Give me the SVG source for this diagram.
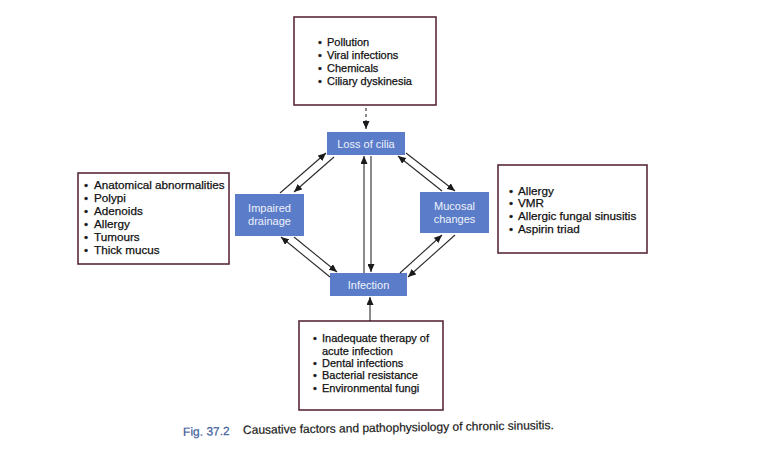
<svg xmlns="http://www.w3.org/2000/svg" width="768" height="468" viewBox="0 0 768 468">
<defs>
<style>
.box{fill:#ffffff;stroke:#5a2a3a;stroke-width:1.6}
.node{fill:#5b7cc8}
.nt{font-family:"Liberation Sans",Arial,sans-serif;font-size:11px;fill:#eef2fb;text-anchor:middle}
.bt{font-family:"Liberation Sans",Arial,sans-serif;font-size:11.7px;fill:#111111;stroke:#111111;stroke-width:0.25}
.sm{font-size:11px}
.ln{stroke:#2a2a2a;stroke-width:1.1;fill:none;marker-end:url(#ah)}
.cap{font-family:"Liberation Sans",Arial,sans-serif;font-size:12px;fill:#1a1a1a;stroke:#1a1a1a;stroke-width:0.2}
.fig{font-family:"Liberation Sans",Arial,sans-serif;font-size:12px;fill:#3d5c9c;stroke:#3d5c9c;stroke-width:0.2}
</style>
<marker id="ah" markerUnits="userSpaceOnUse" markerWidth="8" markerHeight="7" refX="8" refY="3.5" orient="auto">
<path d="M0,0 L8,3.5 L0,7 z" fill="#1a1a1a"/>
</marker>
</defs>
<rect width="768" height="468" fill="#ffffff"/>

<g id="top-factors">
<rect class="box" x="294" y="17" width="142" height="88"/>
<text class="bt sm" x="318" y="46">•</text><text class="bt sm" x="327" y="46">Pollution</text>
<text class="bt sm" x="318" y="59">•</text><text class="bt sm" x="327" y="59">Viral infections</text>
<text class="bt sm" x="318" y="72">•</text><text class="bt sm" x="327" y="72">Chemicals</text>
<text class="bt sm" x="318" y="85">•</text><text class="bt sm" x="327" y="85">Ciliary dyskinesia</text>
</g>

<g id="left-factors">
<rect class="box" x="78" y="173" width="151" height="91"/>
<text class="bt" x="84" y="189">•</text><text class="bt" x="94" y="189">Anatomical abnormalities</text>
<text class="bt" x="84" y="202">•</text><text class="bt" x="94" y="202">Polypi</text>
<text class="bt" x="84" y="215">•</text><text class="bt" x="94" y="215">Adenoids</text>
<text class="bt" x="84" y="228">•</text><text class="bt" x="94" y="228">Allergy</text>
<text class="bt" x="84" y="241">•</text><text class="bt" x="94" y="241">Tumours</text>
<text class="bt" x="84" y="254">•</text><text class="bt" x="94" y="254">Thick mucus</text>
</g>

<g id="right-factors">
<rect class="box" x="498" y="165" width="149" height="88"/>
<text class="bt" x="509" y="195">•</text><text class="bt" x="518" y="195">Allergy</text>
<text class="bt" x="509" y="207">•</text><text class="bt" x="518" y="207">VMR</text>
<text class="bt" x="509" y="220">•</text><text class="bt" x="518" y="220">Allergic fungal sinusitis</text>
<text class="bt" x="509" y="233">•</text><text class="bt" x="518" y="233">Aspirin triad</text>
</g>

<g id="bottom-factors">
<rect class="box" x="299" y="321" width="144" height="89"/>
<text class="bt sm" x="313" y="342">•</text><text class="bt sm" x="322" y="342">Inadequate therapy of</text>
<text class="bt sm" x="322" y="355">acute infection</text>
<text class="bt sm" x="313" y="367">•</text><text class="bt sm" x="322" y="367">Dental infections</text>
<text class="bt sm" x="313" y="379">•</text><text class="bt sm" x="322" y="379">Bacterial resistance</text>
<text class="bt sm" x="313" y="392">•</text><text class="bt sm" x="322" y="392">Environmental fungi</text>
</g>

<g id="loss-of-cilia">
<rect class="node" x="327" y="132" width="78" height="23"/>
<text class="nt" x="366" y="148">Loss of cilia</text>
</g>

<g id="impaired-drainage">
<rect class="node" x="235" y="194" width="69" height="42"/>
<text class="nt" x="269.500" y="212">Impaired</text>
<text class="nt" x="269.500" y="225">drainage</text>
</g>

<g id="mucosal-changes">
<rect class="node" x="420" y="192" width="69" height="41"/>
<text class="nt" x="454.500" y="210">Mucosal</text>
<text class="nt" x="454.500" y="223">changes</text>
</g>

<g id="infection">
<rect class="node" x="330" y="273" width="77" height="23"/>
<text class="nt" x="368.500" y="289">Infection</text>
</g>

<g id="connectors">
<line class="ln" x1="366" y1="108" x2="366" y2="129" stroke-dasharray="3,3"/>
<line class="ln" x1="280" y1="193" x2="326" y2="153"/>
<line class="ln" x1="334" y1="157" x2="294" y2="192"/>
<line class="ln" x1="442" y1="191" x2="398" y2="156"/>
<line class="ln" x1="406" y1="153" x2="455" y2="191"/>
<line class="ln" x1="364" y1="273" x2="364" y2="156"/>
<line class="ln" x1="371" y1="156" x2="371" y2="272"/>
<line class="ln" x1="330" y1="277" x2="281" y2="237"/>
<line class="ln" x1="294" y1="237" x2="337" y2="272"/>
<line class="ln" x1="400" y1="273" x2="442" y2="235"/>
<line class="ln" x1="455" y1="235" x2="408" y2="277"/>
<line class="ln" x1="370" y1="321" x2="370" y2="297"/>
</g>

<g id="caption" transform="rotate(-0.9 370 430)">
<text class="fig" x="183" y="433">Fig. 37.2</text>
<text class="cap" x="243" y="432">Causative factors and pathophysiology of chronic sinusitis.</text>
</g>
</svg>
